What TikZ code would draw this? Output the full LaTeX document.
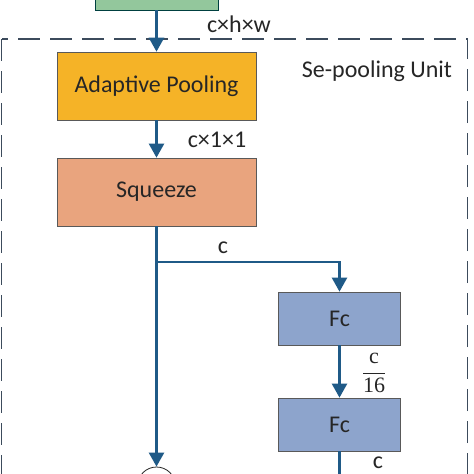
\documentclass[tikz,border=0pt]{standalone}
\usepackage{fontspec}
\setmainfont{Carlito}
\newfontfamily\fracfont{Liberation Serif}
\usetikzlibrary{arrows.meta}
\definecolor{arrowblue}{HTML}{1F5A87}
\definecolor{featgreen}{HTML}{93C79C}
\definecolor{poolgold}{HTML}{F5B327}
\definecolor{sqzorange}{HTML}{E9A47E}
\definecolor{fcblue}{HTML}{8DA4CC}
\definecolor{frame}{HTML}{3C4B5C}
\tikzset{
  blk/.style={draw=black!65, line width=0.7pt, inner sep=0pt, text=black!85,
    font=\fontsize{24}{28}\selectfont},
  flow/.style={draw=arrowblue, line width=2.4pt, -{Triangle[width=15pt,length=14pt]}},
  wire/.style={draw=arrowblue, line width=2.4pt},
  lbl/.style={text=black!85, font=\fontsize{24}{28}\selectfont, inner sep=0pt},
}
\begin{document}
\begin{tikzpicture}[x=1pt, y=-1pt]
  \useasboundingbox (0,0) rectangle (474,474);
  \clip (0,0) rectangle (474,474);
  \fill[white] (0,0) rectangle (474,474);
  % dashed frame of the unit
  \draw[frame, line width=1.5pt, dash pattern=on 22pt off 10pt] (1.5,39) rectangle (467.5,520);
  \node[lbl] (unit) at (377,71) {Se-pooling Unit};
  % blocks
  \node[blk, draw=teal!50!black, fill=featgreen, minimum width=123pt, minimum height=40pt] (feat) at (156.5,-10) {};
  \node[blk, fill=poolgold, minimum width=199pt, minimum height=68pt] (pool) at (156.5,86) {Adaptive Pooling};
  \node[blk, fill=sqzorange, minimum width=199pt, minimum height=68pt] (squeeze) at (156.5,192) {Squeeze};
  \node[blk, fill=fcblue, minimum width=122pt, minimum height=53pt] (fca) at (339.5,318.5) {Fc};
  \node[blk, fill=fcblue, minimum width=122pt, minimum height=53pt] (fcb) at (339.5,424.5) {Fc};
  \node[draw=black!85, line width=0.8pt, circle, minimum size=38pt, inner sep=0pt] (mul) at (156.5,486) {};
  \draw[gray, line width=2.5pt, shorten <=4pt, shorten >=4pt] (mul.45) -- (mul.225);
  \draw[gray, line width=2.5pt, shorten <=4pt, shorten >=4pt] (mul.135) -- (mul.315);
  % connectors
  \coordinate (split) at (156.5,262);
  \coordinate (out) at (339.5,490);
  \draw[flow] (feat.south) -- (pool.north);
  \draw[flow] (pool.south) -- (squeeze.north);
  \draw[flow] (squeeze.south) -- (mul.north);
  \draw[flow] (split) -| (fca.north);
  \draw[flow] (fca.south) -- (fcb.north);
  \draw[wire] (fcb.south) -- (out);
  % sizes
  \node[lbl] (chw) at (239,24) {c×h×w};
  \node[lbl] (c11) at (217,140) {c×1×1};
  \node[lbl] (cbr) at (223,248) {c};
  \node[text=black!85, inner sep=0pt, font=\fontsize{22}{26}\fracfont] (c16) at (374,373)
    {$\displaystyle\frac{\hbox{c}}{\hbox{16}}$};
  \node[lbl] (cout) at (378,463) {c};
\end{tikzpicture}
\end{document}
